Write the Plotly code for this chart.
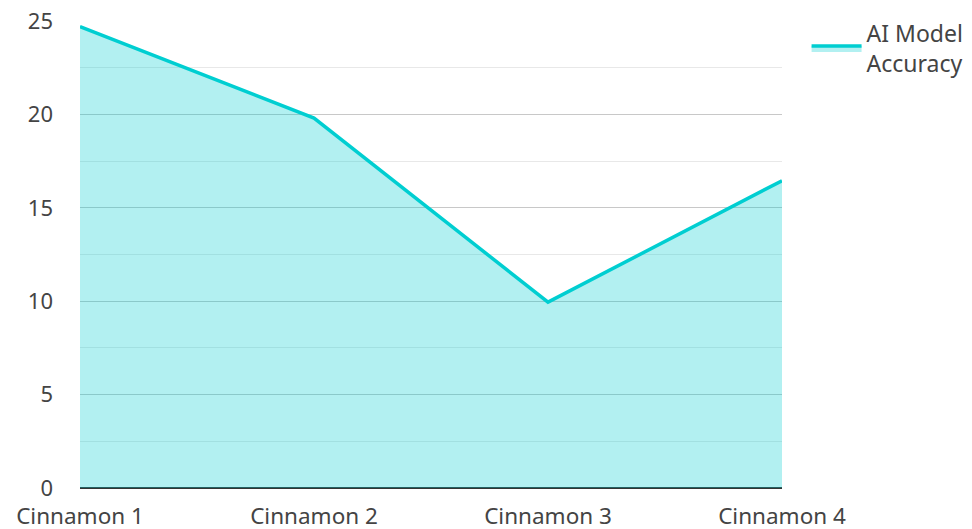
import plotly.graph_objects as go

categories = ["Cinnamon 1", "Cinnamon 2", "Cinnamon 3", "Cinnamon 4"]
accuracy = [24.7, 19.8, 9.95, 16.45]
series_name = "AI Model<br>Accuracy"
y_ticks = [0, 5, 10, 15, 20, 25]

fig = go.Figure()
fig.add_trace(go.Scatter(
    x=categories, y=accuracy, name=series_name,
    mode="lines", fill="tozeroy",
    line=dict(color="#00CED1", width=3.5),
    fillcolor="rgba(0,206,209,0.3)",
))

fig.update_layout(
    width=972, height=529,
    margin=dict(l=80, r=190, t=21, b=41, autoexpand=False),
    paper_bgcolor="white", plot_bgcolor="white",
    font=dict(family="Noto Sans", size=23, color="#444444"),
    showlegend=True,
    legend=dict(x=1.035, y=1.02, xanchor="left", yanchor="top", itemwidth=50,
                font=dict(size=23, color="#444444"), bgcolor="rgba(0,0,0,0)"),
    xaxis=dict(range=[0, 3], showgrid=False, zeroline=False, showline=False,
               ticks="", tickfont=dict(size=22.5), automargin=False,
               ticklabelstandoff=12),
    yaxis=dict(range=[0, 25], tickvals=y_ticks, showgrid=True, gridcolor="#c8c8c8",
               gridwidth=1, zeroline=True, zerolinecolor="#333333", zerolinewidth=2,
               showline=False, ticks="", ticklabelstandoff=26, automargin=False,
               minor=dict(dtick=2.5, showgrid=True, gridcolor="#e8e8e8", gridwidth=1),
               tickfont=dict(size=22)),
)

fig.write_html("out.html", config={"displayModeBar": False},
               post_script="document.body.style.margin='0';document.body.style.overflow='hidden';")
